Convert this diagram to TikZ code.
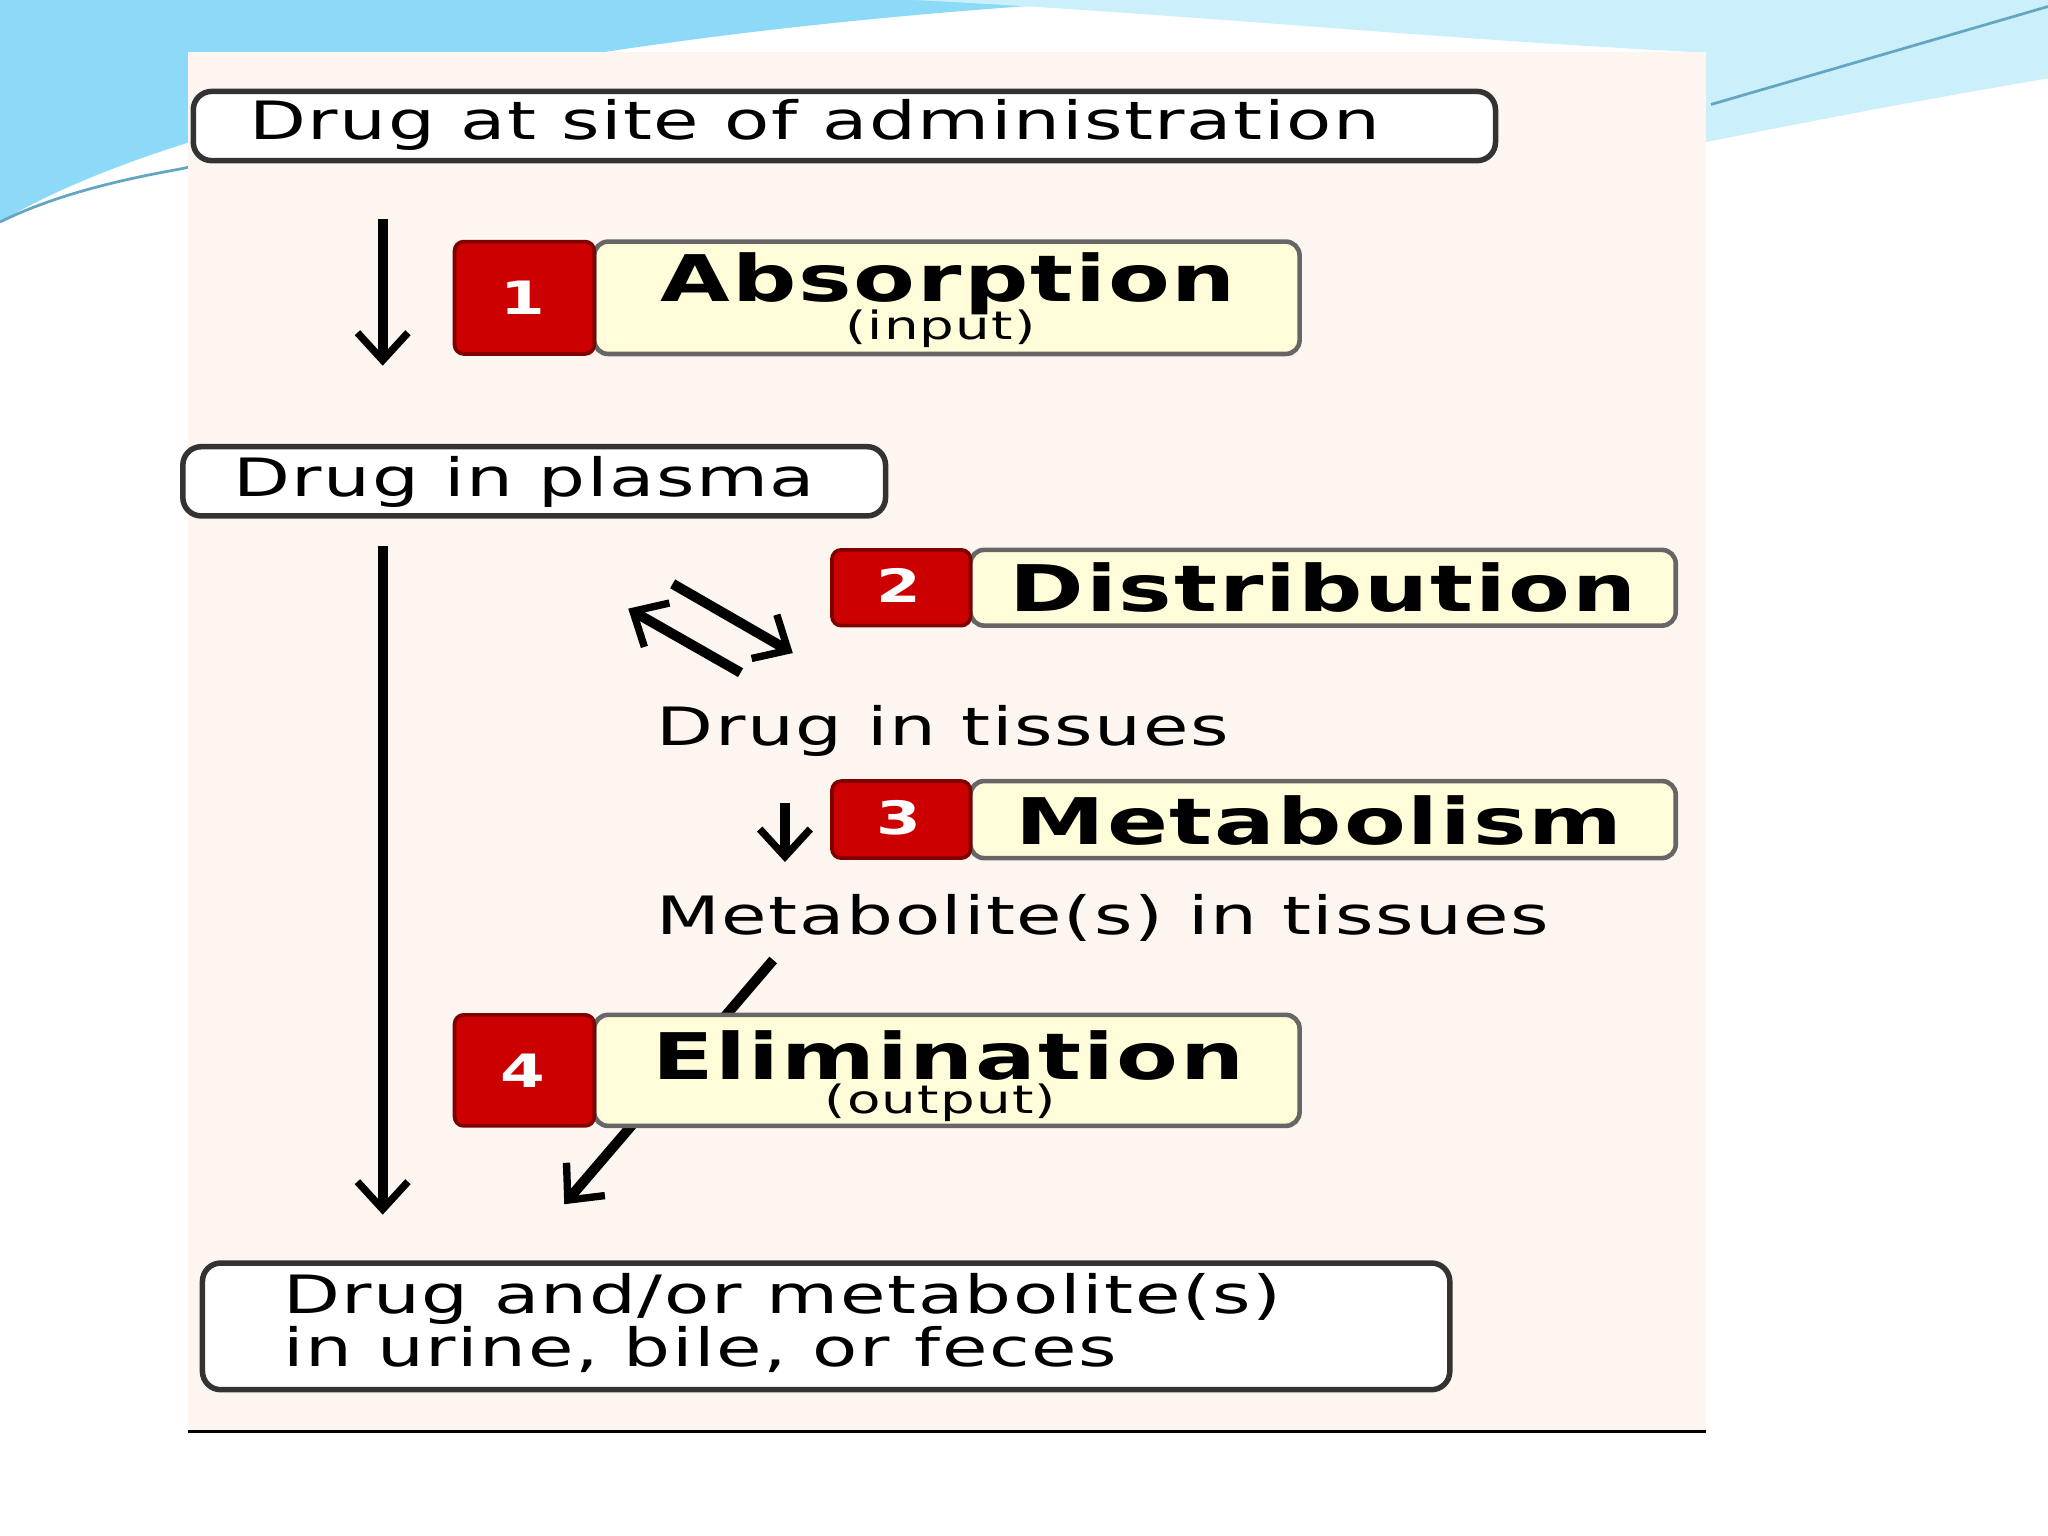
\documentclass[tikz,border=0pt]{standalone}
\usepackage{fontspec}
\setmainfont{DejaVu Sans}[FakeStretch=1.4,LetterSpace=3]
\usetikzlibrary{arrows.meta}
\begin{document}
\begin{tikzpicture}[x=0.01cm,y=-0.01cm,
 wbox/.style={draw=black!80,line width=1.2pt,fill=white,rounded corners=4pt},
 ybox/.style={draw=black!60,line width=1pt,fill=yellow!15,rounded corners=3pt},
 rbox/.style={draw=red!50!black,line width=0.8pt,fill=red!80!black,rounded corners=2pt},
 arr/.style={line width=2.2pt,-{Straight Barb[length=6pt,width=11pt,line width=1.6pt]}},
 txt/.style={font=\fontsize{11.5}{13}\selectfont,inner sep=0pt},
 sub/.style={font=\fontsize{8.5}{10}\selectfont,inner sep=0pt},
 ttl/.style={font=\bfseries\fontsize{14}{16}\selectfont,inner sep=0pt},
 num/.style={font=\bfseries\fontsize{10}{12}\selectfont,text=white,inner sep=0pt}]
\useasboundingbox (0,0) rectangle (1568,1176);
\fill[white] (0,0) rectangle (1568,1176);
% slide decoration
\fill[cyan!45!white] (0,0) -- (860,0) .. controls (500,20) and (150,80) .. (0,170) -- cycle;
\fill[cyan!20!white] (700,0) -- (1568,0) -- (1568,60) .. controls (1450,80) and (1350,100) .. (1300,110) -- (1300,40) .. controls (1100,30) and (900,10) .. (700,0) -- cycle;
\draw[cyan!50!gray,line width=0.6pt] (1310,80) -- (1568,5);
\draw[cyan!50!gray,line width=0.6pt] (0,170) .. controls (60,140) and (140,130) .. (144,128);
% panel
\fill[black!14!orange!6!white] (144,40) rectangle (1306,1096);
\draw[black,line width=0.8pt] (144,1096) -- (1306,1096);
% boxes
\draw[wbox] (148,70) rectangle (1145,123);
\node[txt,anchor=west] (site) at (190,96) {Drug at site of administration};
\draw[ybox] (455,185) rectangle (995,271);
\draw[rbox] (348,185) rectangle (455,271);
\node[num] (n1) at (400,228) {1};
\node[ttl] (abs) at (726,217) {Absorption};
\node[sub] (inp) at (720,252) {(input)};
\draw[wbox] (140,342) rectangle (678,395);
\node[txt,anchor=west] (plasma) at (178,369) {Drug in plasma};
\draw[ybox] (743,421) rectangle (1283,479);
\draw[rbox] (637,421) rectangle (743,479);
\node[num] (n2) at (688,448) {2};
\node[ttl] (dist) at (1013,450) {Distribution};
\node[txt,anchor=west] (tis) at (502,560) {Drug in tissues};
\draw[ybox] (743,598) rectangle (1283,657);
\draw[rbox] (637,598) rectangle (743,657);
\node[num] (n3) at (688,626) {3};
\node[ttl] (met) at (1010,628) {Metabolism};
\node[txt,anchor=west] (metab) at (502,703) {Metabolite(s) in tissues};
\coordinate (d1) at (592,735);
\coordinate (d2) at (432,922);
\draw[arr] (d1) -- (d2);
\draw[ybox] (455,777) rectangle (995,862);
\draw[rbox] (348,777) rectangle (455,862);
\node[num] (n4) at (400,820) {4};
\node[ttl] (eli) at (726,808) {Elimination};
\node[sub] (outp) at (720,844) {(output)};
\draw[wbox] (155,967) rectangle (1110,1064);
\node[txt,anchor=west,align=left,font=\fontsize{11.5}{11.5}\selectfont] (urine) at (216,1013) {Drug and/or metabolite(s)\\in urine, bile, or feces};
% arrows
\coordinate (a1) at (293,168); \coordinate (a2) at (293,280);
\draw[arr] (a1) -- (a2);
\coordinate (b1) at (293,418); \coordinate (b2) at (293,930);
\draw[arr] (b1) -- (b2);
\coordinate (e1) at (515,447); \coordinate (e2) at (607,500);
\draw[arr] (e1) -- (e2);
\coordinate (f1) at (567,515); \coordinate (f2) at (481,466);
\draw[arr] (f1) -- (f2);
\coordinate (g1) at (601,615); \coordinate (g2) at (601,660);
\draw[arr] (g1) -- (g2);
\end{tikzpicture}
\end{document}
